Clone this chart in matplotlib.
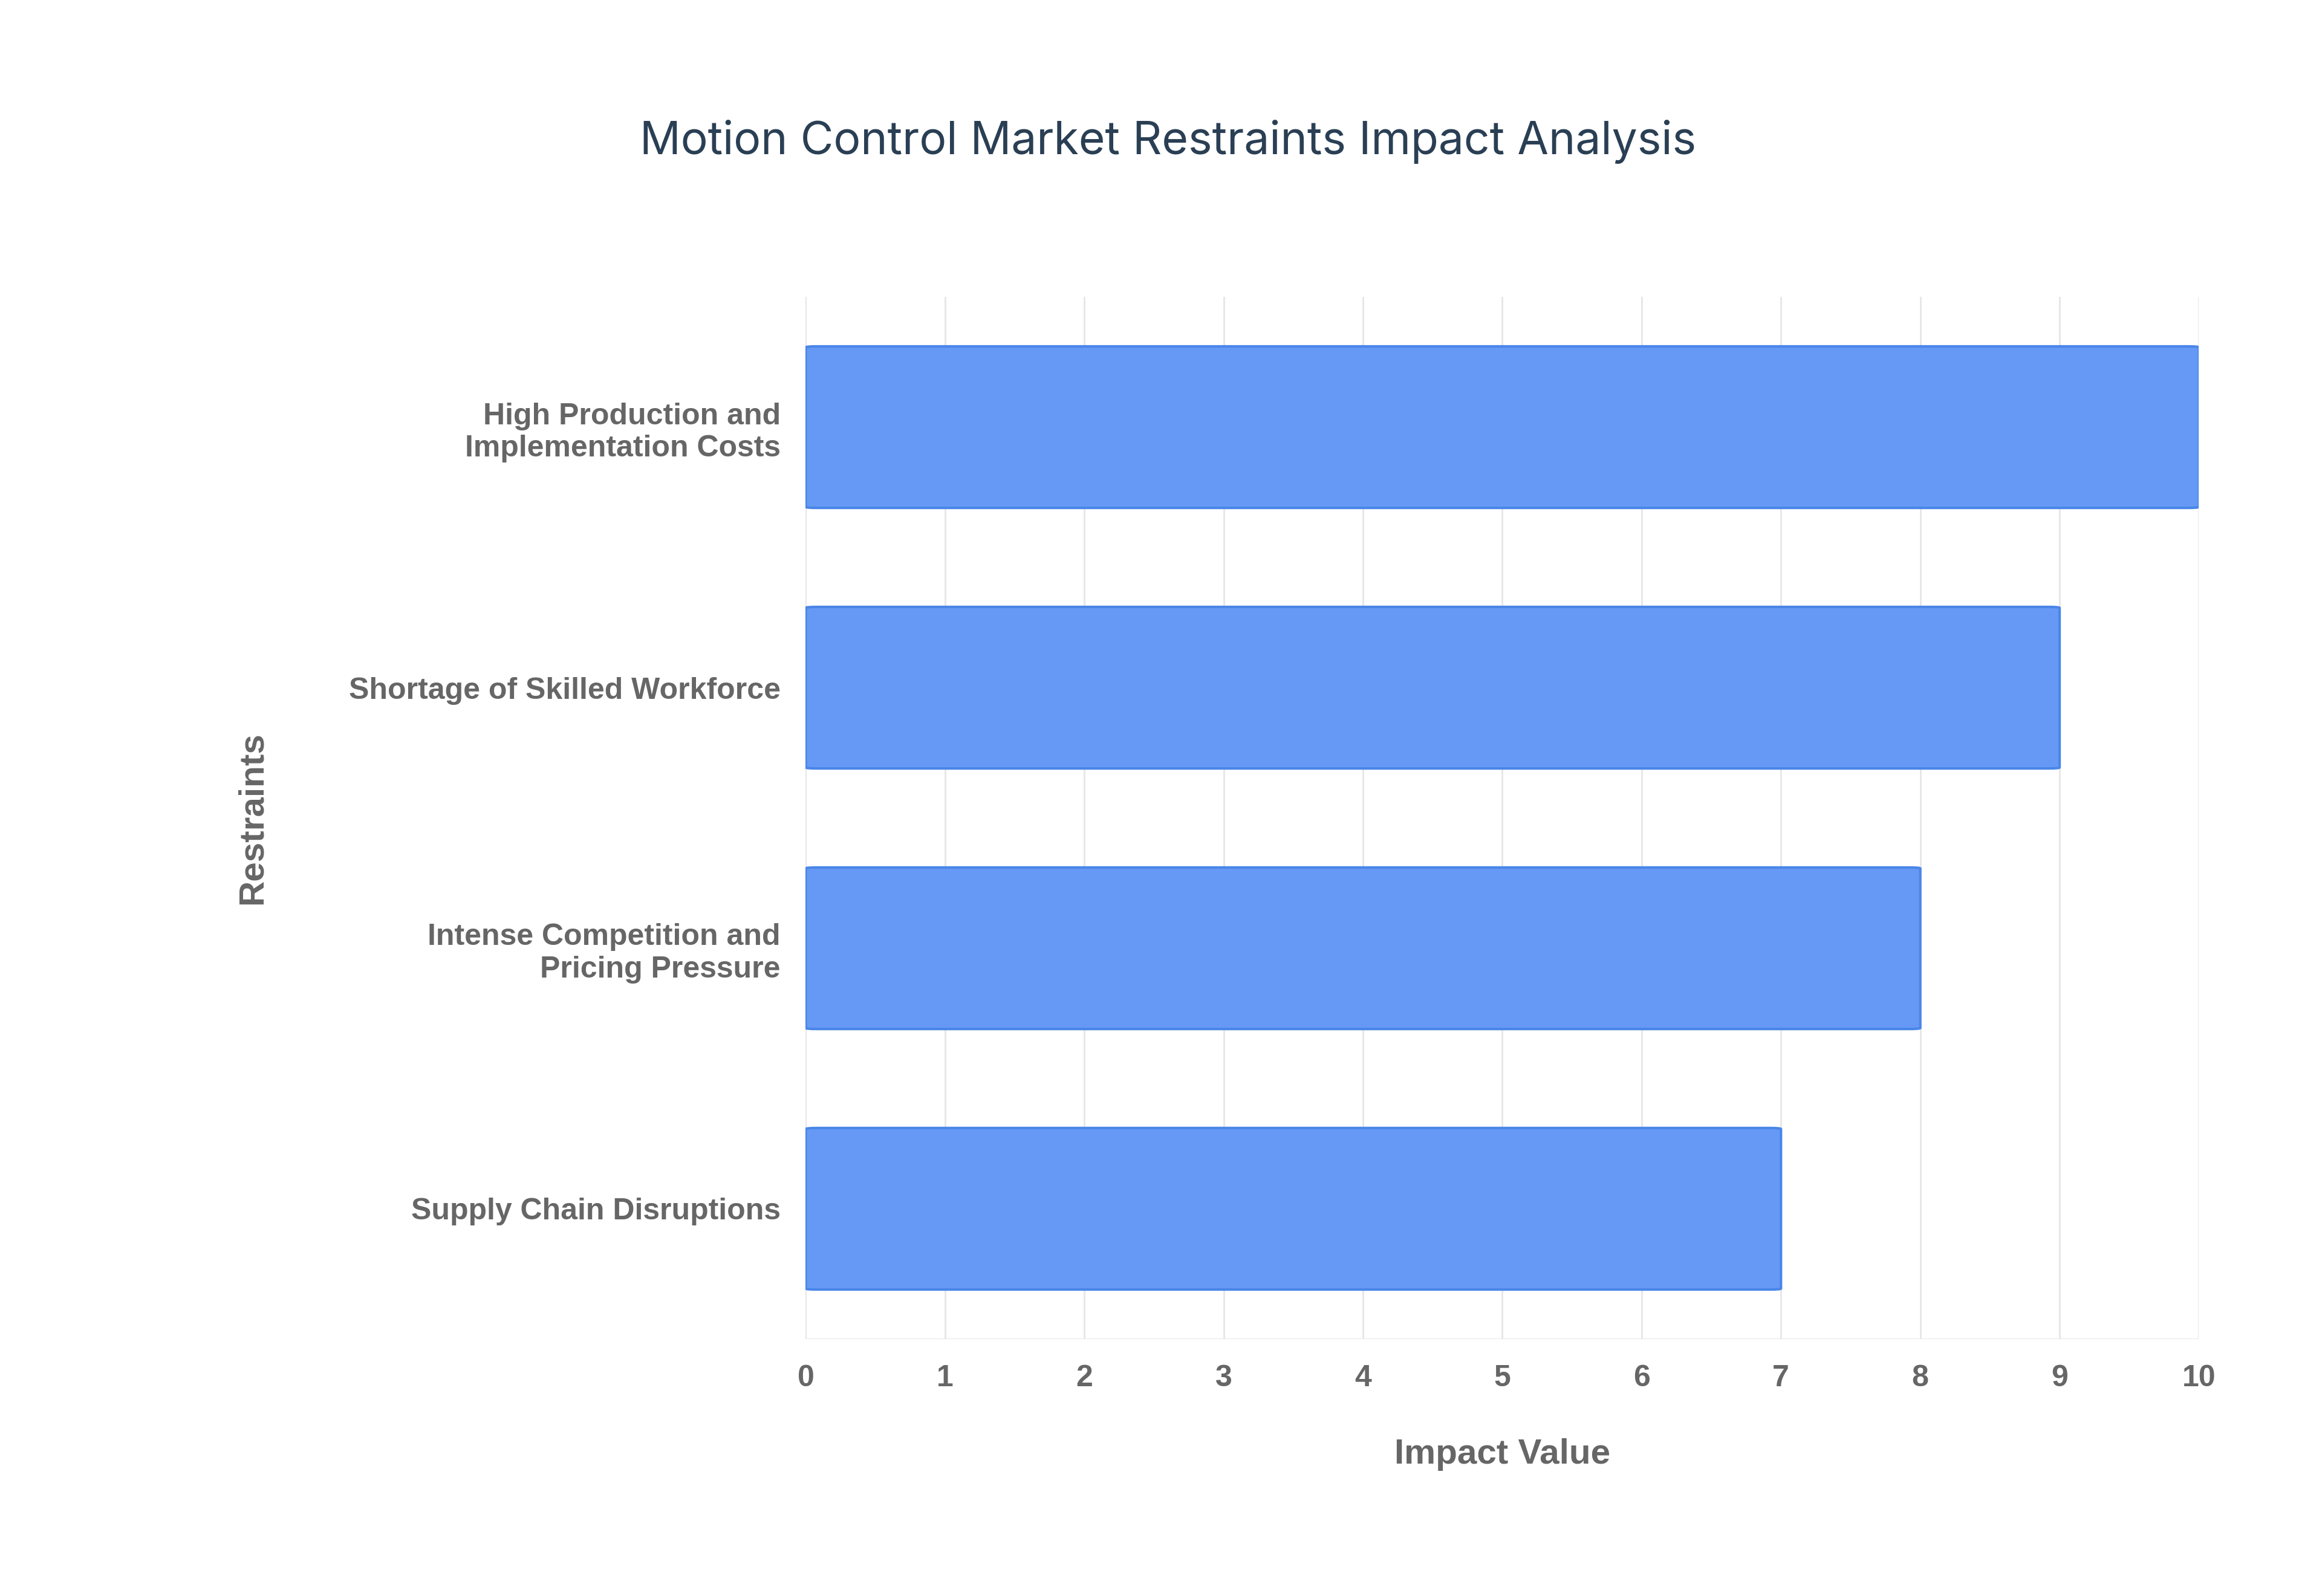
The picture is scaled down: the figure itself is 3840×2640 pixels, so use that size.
import matplotlib as mpl
mpl.use('Agg')
import matplotlib.pyplot as plt
from matplotlib.patches import FancyBboxPatch

restraints = ['High Production and\nImplementation Costs',
              'Shortage of Skilled Workforce',
              'Intense Competition and\nPricing Pressure',
              'Supply Chain Disruptions']
impact = [10, 9, 8, 7]

plt.rcParams['font.family'] = ['Liberation Sans', 'DejaVu Sans']

fig = plt.figure(figsize=(38.4, 26.4), dpi=100)
ax = fig.add_axes([0.347, 0.161, 0.600, 0.653])

ypos = list(range(len(restraints)))[::-1]
bh = 0.62
for y, v in zip(ypos, impact):
    # rounded bar ends
    p = FancyBboxPatch((0, y - bh / 2), v, bh,
                       boxstyle='round,pad=0,rounding_size=0.08',
                       mutation_aspect=1 / 20,
                       facecolor='#6699F5', edgecolor='#4A86E8', linewidth=3)
    ax.add_patch(p)

ax.set_xlim(0, 10)
ax.set_ylim(-0.5, 3.5)
ax.set_xticks(range(11))
ax.set_yticks(ypos)
ax.set_yticklabels(restraints)
ax.grid(axis='x', color='#e6e6e6', linewidth=2)
ax.set_axisbelow(True)
for s in ax.spines.values():
    s.set_visible(False)
ax.axhline(-0.5, color='#e6e6e6', linewidth=2)
ax.tick_params(length=0, labelsize=36, labelcolor='#666666', pad=30)
for t in ax.get_xticklabels() + ax.get_yticklabels():
    t.set_fontweight('bold')

ax.set_xlabel('Impact Value', fontsize=42, color='#666666', fontweight='bold', labelpad=55)
ax.set_ylabel('Restraints', fontsize=42, color='#666666', fontweight='bold', labelpad=95)

fig.text(0.503, 0.911, 'Motion Control Market Restraints Impact Analysis',
         ha='center', va='center', fontsize=54, color='#2a3f54',
         family=['Inter', 'DejaVu Sans'])

fig.savefig('out.png', dpi=100, facecolor='white')
